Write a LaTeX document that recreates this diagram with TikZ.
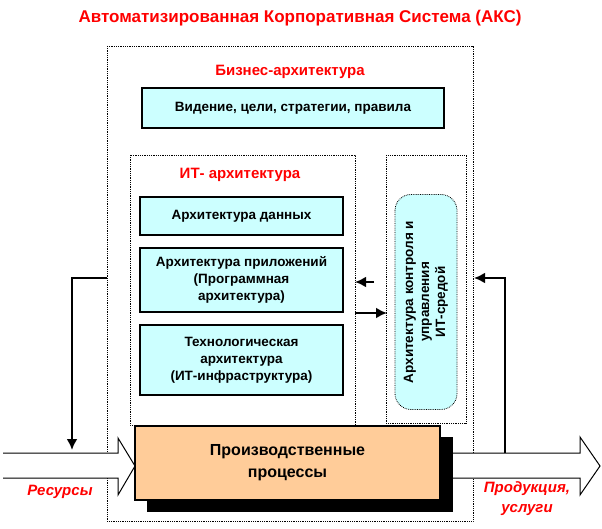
\documentclass[tikz,border=0pt]{standalone}
\usepackage{fontspec}
\setmainfont{Liberation Sans}
\usetikzlibrary{arrows.meta}
\definecolor{lc}{HTML}{CCFFFF}
\definecolor{lo}{HTML}{FFCC99}
\begin{document}
\begin{tikzpicture}[x=1pt,y=-1pt,
 cbox/.style={draw,line width=1.8pt,fill=lc,align=center,font=\bfseries\fontsize{13.5}{17}\selectfont},
 dbox/.style={draw,densely dotted,line width=0.8pt},
 redt/.style={text=red,font=\bfseries\fontsize{15}{18}\selectfont},
 arr/.style={line width=2.8pt,-{Latex[length=11pt,width=11pt]}},
 hol/.style={draw,fill=white,line width=1pt}]
\useasboundingbox (0,0) rectangle (602,529);
\node[text=red,font=\bfseries\fontsize{17}{20}\selectfont] (title) at (300,18) {Автоматизированная Корпоративная Система (АКС)};
\draw[dbox] (107,46) rectangle (473,521);
\node[redt] (biz) at (290,72) {Бизнес-архитектура};
\node[cbox,minimum width=302pt,minimum height=40pt] (vis) at (293,108) {Видение, цели, стратегии, правила};
\draw[dbox] (130,155) rectangle (355,425);
\node[redt] (it) at (240,175) {ИТ- архитектура};
\node[cbox,minimum width=203pt,minimum height=38pt] (data) at (241.5,216) {Архитектура данных};
\node[cbox,minimum width=203pt,minimum height=64pt] (app) at (241.5,280) {Архитектура приложений\\(Программная\\архитектура)};
\node[cbox,minimum width=203pt,minimum height=70pt] (tech) at (241.5,360) {Технологическая\\архитектура\\(ИТ-инфраструктура)};
\draw[dbox] (386,155) rectangle (466,423);
\node[draw,densely dotted,line width=0.8pt,fill=lc,rounded corners=16pt,minimum width=215pt,minimum height=62pt,rotate=90,align=center,font=\bfseries\fontsize{13.5}{16}\selectfont] (ctl) at (426,302) {Архитектура контроля и\\управления\\ИТ-средой};
\coordinate (a1) at (374,282); \coordinate (a2) at (355,282);
\coordinate (b1) at (355,313); \coordinate (b2) at (387,313);
\draw[arr] (a1) -- (a2);
\draw[arr] (b1) -- (b2);
\draw[hol] (3,453) -- (118,453) -- (118,438) -- (135,466) -- (118,495) -- (118,478) -- (3,478);
\draw[hol] (440,453) -- (580,453) -- (580,437) -- (600,466) -- (580,495) -- (580,478) -- (440,478);
\fill (147,437) rectangle (453,512);
\node[draw,line width=1.3pt,fill=lo,minimum width=305pt,minimum height=74pt,align=center,font=\bfseries\fontsize{16}{22}\selectfont] (prod) at (287.5,463) {Производственные\\процессы};
\coordinate (l1) at (107,278); \coordinate (l2) at (72,278); \coordinate (l3) at (72,450);
\draw[arr] (l1) -- (l2) -- (l3);
\coordinate (r1) at (505,453); \coordinate (r2) at (505,278); \coordinate (r3) at (474,278);
\draw[arr] (r1) -- (r2) -- (r3);
\node[text=red,font=\bfseries\itshape\fontsize{15}{18}\selectfont] (res) at (60,492) {Ресурсы};
\node[text=red,font=\bfseries\itshape\fontsize{15}{20}\selectfont,align=center] (out) at (527,499) {Продукция,\\услуги};
\end{tikzpicture}
\end{document}
